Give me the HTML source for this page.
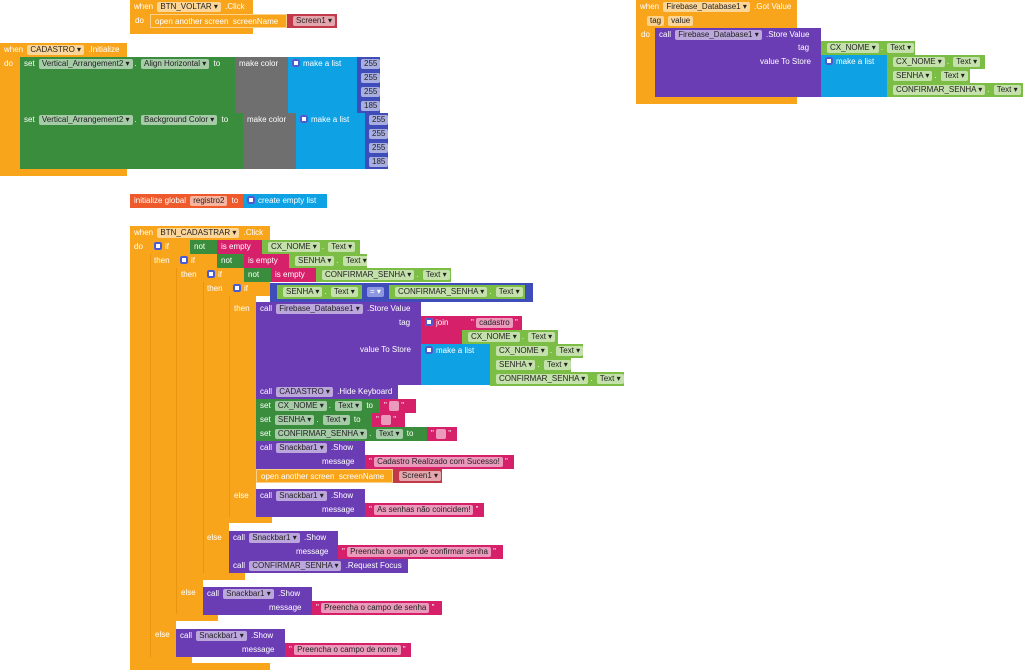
<!DOCTYPE html>
<html><head><meta charset="utf-8"><style>
body{margin:0;width:1024px;height:670px;background:#fff;position:relative;overflow:hidden;font-family:"Liberation Sans",sans-serif;font-size:8px;color:#fff}
.b{position:absolute;box-sizing:border-box;white-space:nowrap;line-height:14px;padding-left:4px}
.c{display:inline-block;background:rgba(255,255,255,.55);color:#222;border-radius:2px;padding:0 3px;line-height:10px;height:10px;margin:0 2px}
.t{position:absolute;white-space:nowrap;line-height:14px}
.g{display:inline-block;width:8px;height:8px;border-radius:2px;background:#fff;vertical-align:-1px;box-shadow:inset 0 0 0 2px #4a5ad0;margin-right:3px}
.o{background:#f9a51b}.gr{background:#3a8d3c}.lg{background:#7cbd45}.pk{background:#d6216a}.pu{background:#6a3db4}.bl{background:#0ea2e4}.gy{background:#6f6f6f}.db{background:#3f4dbb}.rd{background:#c23a49}
.ib{border-left:1px solid #e8950f}
</style></head><body>
<!-- BTN_VOLTAR -->
<div class="b o" style="left:130px;top:0;width:123px;height:34px">when <span class="c">BTN_VOLTAR ▾</span> .Click</div>
<div class="t" style="left:135px;top:14px">do</div>
<div class="b o" style="left:150px;top:14px;width:137px;height:14px;border:1px solid #fdd08a">open another screen &nbsp;screenName</div>
<div class="b rd" style="left:287px;top:14px;width:50px;height:14px"><span class="c">Screen1 ▾</span></div>

<!-- CADASTRO -->
<div class="b o" style="left:0;top:43px;width:127px;height:14px">when <span class="c">CADASTRO ▾</span> .Initialize</div>
<div class="b o" style="left:0;top:57px;width:20px;height:119px">do</div>
<div class="b o" style="left:0;top:169px;width:127px;height:7px"></div>
<div class="b gr" style="left:20px;top:57px;width:215px;height:56px">set <span class="c">Vertical_Arrangement2 ▾</span>. <span class="c">Align Horizontal ▾</span> to</div>
<div class="b gy" style="left:235px;top:57px;width:53px;height:56px">make color</div>
<div class="b bl" style="left:288px;top:57px;width:69px;height:56px"><span class="g"></span>make a list</div>
<div class="b db" style="left:357px;top:57px;width:23px;height:56px"></div>
<div class="t" style="left:361px;top:57px;color:#222;line-height:14px"><span class="c" style="margin:0">255</span><br><span class="c" style="margin:0">255</span><br><span class="c" style="margin:0">255</span><br><span class="c" style="margin:0">185</span></div>
<div class="b gr" style="left:20px;top:113px;width:223px;height:56px">set <span class="c">Vertical_Arrangement2 ▾</span>. <span class="c">Background Color ▾</span> to</div>
<div class="b gy" style="left:243px;top:113px;width:53px;height:56px">make color</div>
<div class="b bl" style="left:296px;top:113px;width:69px;height:56px"><span class="g"></span>make a list</div>
<div class="b db" style="left:365px;top:113px;width:23px;height:56px"></div>
<div class="t" style="left:369px;top:113px"><span class="c" style="margin:0">255</span><br><span class="c" style="margin:0">255</span><br><span class="c" style="margin:0">255</span><br><span class="c" style="margin:0">185</span></div>

<!-- global -->
<div class="b" style="left:130px;top:194px;width:113px;height:14px;background:#ee5a2b">initialize global <span class="c">registro2</span> to</div>
<div class="b bl" style="left:243px;top:194px;width:84px;height:14px"><span class="g"></span>create empty list</div>

<!-- Firebase GotValue -->
<div class="b o" style="left:636px;top:0;width:161px;height:104px">when <span class="c">Firebase_Database1 ▾</span> .Got Value</div>
<div class="t" style="left:645px;top:14px"><span class="c" style="background:rgba(255,255,255,.5)">tag</span><span class="c">value</span></div>
<div class="t" style="left:641px;top:28px">do</div>
<div class="b pu" style="left:655px;top:28px;width:166px;height:69px">call <span class="c">Firebase_Database1 ▾</span> .Store Value</div>
<div class="t" style="left:798px;top:41px">tag</div>
<div class="t" style="left:760px;top:55px">value To Store</div>
<div class="b lg" style="left:821px;top:41px;width:94px;height:14px"><span class="c">CX_NOME ▾</span>. <span class="c">Text ▾</span></div>
<div class="b bl" style="left:821px;top:55px;width:66px;height:42px"><span class="g"></span>make a list</div>
<div class="b lg" style="left:887px;top:55px;width:98px;height:14px"><span class="c">CX_NOME ▾</span>. <span class="c">Text ▾</span></div>
<div class="b lg" style="left:887px;top:69px;width:83px;height:14px"><span class="c">SENHA ▾</span>. <span class="c">Text ▾</span></div>
<div class="b lg" style="left:887px;top:83px;width:136px;height:14px"><span class="c">CONFIRMAR_SENHA ▾</span>. <span class="c">Text ▾</span></div>

<!-- BTN_CADASTRAR -->
<div class="b o" style="left:130px;top:226px;width:140px;height:14px">when <span class="c">BTN_CADASTRAR ▾</span> .Click</div>
<div class="b o" style="left:130px;top:240px;width:20px;height:430px">do</div>
<div class="b o" style="left:130px;top:663px;width:140px;height:7px"></div>
<!-- if1 -->
<div class="b o ib" style="left:150px;top:240px;width:26px;height:424px"></div>
<div class="b o" style="left:150px;top:240px;width:40px;height:14px"><span class="g"></span>if</div>
<div class="t" style="left:154px;top:254px">then</div>
<div class="t" style="left:155px;top:628px">else</div>
<div class="b o" style="left:150px;top:657px;width:42px;height:7px"></div>
<div class="b gr" style="left:190px;top:240px;width:27px;height:14px">not</div>
<div class="b pk" style="left:217px;top:240px;width:45px;height:14px">is empty</div>
<div class="b lg" style="left:262px;top:240px;width:98px;height:14px"><span class="c">CX_NOME ▾</span>. <span class="c">Text ▾</span></div>
<!-- if2 -->
<div class="b o ib" style="left:176px;top:254px;width:27px;height:366px"></div>
<div class="b o" style="left:176px;top:254px;width:41px;height:14px"><span class="g"></span>if</div>
<div class="t" style="left:181px;top:268px">then</div>
<div class="t" style="left:181px;top:586px">else</div>
<div class="b o" style="left:176px;top:614px;width:42px;height:7px"></div>
<div class="b gr" style="left:217px;top:254px;width:27px;height:14px">not</div>
<div class="b pk" style="left:244px;top:254px;width:45px;height:14px">is empty</div>
<div class="b lg" style="left:289px;top:254px;width:78px;height:14px"><span class="c">SENHA ▾</span>. <span class="c">Text ▾</span></div>
<!-- if3 -->
<div class="b o ib" style="left:203px;top:268px;width:26px;height:312px"></div>
<div class="b o" style="left:203px;top:268px;width:41px;height:14px"><span class="g"></span>if</div>
<div class="t" style="left:207px;top:282px">then</div>
<div class="t" style="left:207px;top:531px">else</div>
<div class="b o" style="left:203px;top:573px;width:42px;height:7px"></div>
<div class="b gr" style="left:244px;top:268px;width:27px;height:14px">not</div>
<div class="b pk" style="left:271px;top:268px;width:45px;height:14px">is empty</div>
<div class="b lg" style="left:316px;top:268px;width:135px;height:14px"><span class="c">CONFIRMAR_SENHA ▾</span>. <span class="c">Text ▾</span></div>
<!-- if4 -->
<div class="b o ib" style="left:229px;top:282px;width:27px;height:240px"></div>
<div class="b o" style="left:229px;top:282px;width:41px;height:14px"><span class="g"></span>if</div>
<div class="t" style="left:234px;top:302px">then</div>
<div class="t" style="left:234px;top:489px">else</div>
<div class="b o" style="left:229px;top:517px;width:43px;height:6px"></div>
<div class="b db" style="left:270px;top:283px;width:263px;height:19px"></div>
<div class="b lg" style="left:277px;top:285px;width:85px;height:14px"><span class="c">SENHA ▾</span>. <span class="c">Text ▾</span></div>
<div class="t" style="left:365px;top:285px"><span class="c" style="background:#8e98e0;color:#fff">= ▾</span></div>
<div class="b lg" style="left:389px;top:285px;width:136px;height:14px"><span class="c">CONFIRMAR_SENHA ▾</span>. <span class="c">Text ▾</span></div>
<!-- then content -->
<div class="b pu" style="left:256px;top:302px;width:165px;height:83px">call <span class="c">Firebase_Database1 ▾</span> .Store Value</div>
<div class="t" style="left:399px;top:316px">tag</div>
<div class="t" style="left:360px;top:343px">value To Store</div>
<div class="b pk" style="left:421px;top:316px;width:101px;height:28px"><span class="g"></span>join</div>
<div class="b pk" style="left:467px;top:316px;width:55px;height:14px">" <span class="c" style="margin:0">cadastro</span> "</div>
<div class="b lg" style="left:462px;top:330px;width:96px;height:14px"><span class="c">CX_NOME ▾</span>. <span class="c">Text ▾</span></div>
<div class="b bl" style="left:421px;top:344px;width:69px;height:41px"><span class="g"></span>make a list</div>
<div class="b lg" style="left:490px;top:344px;width:93px;height:14px"><span class="c">CX_NOME ▾</span>. <span class="c">Text ▾</span></div>
<div class="b lg" style="left:490px;top:358px;width:81px;height:14px"><span class="c">SENHA ▾</span>. <span class="c">Text ▾</span></div>
<div class="b lg" style="left:490px;top:372px;width:134px;height:14px"><span class="c">CONFIRMAR_SENHA ▾</span>. <span class="c">Text ▾</span></div>
<div class="b pu" style="left:256px;top:385px;width:142px;height:14px">call <span class="c">CADASTRO ▾</span> .Hide Keyboard</div>
<div class="b gr" style="left:256px;top:399px;width:124px;height:14px">set <span class="c">CX_NOME ▾</span>. <span class="c">Text ▾</span> to</div>
<div class="b pk" style="left:380px;top:399px;width:36px;height:14px">" <span class="c" style="margin:0;width:4px">&nbsp;</span> "</div>
<div class="b gr" style="left:256px;top:413px;width:116px;height:14px">set <span class="c">SENHA ▾</span>. <span class="c">Text ▾</span> to</div>
<div class="b pk" style="left:372px;top:413px;width:33px;height:14px">" <span class="c" style="margin:0;width:4px">&nbsp;</span> "</div>
<div class="b gr" style="left:256px;top:427px;width:171px;height:14px">set <span class="c">CONFIRMAR_SENHA ▾</span>. <span class="c">Text ▾</span> to</div>
<div class="b pk" style="left:427px;top:427px;width:30px;height:14px">" <span class="c" style="margin:0;width:4px">&nbsp;</span> "</div>
<div class="b pu" style="left:256px;top:441px;width:109px;height:28px">call <span class="c">Snackbar1 ▾</span> .Show</div>
<div class="t" style="left:322px;top:455px">message</div>
<div class="b pk" style="left:365px;top:455px;width:149px;height:14px">" <span class="c" style="margin:0">Cadastro Realizado com Sucesso!</span> "</div>
<div class="b o" style="left:256px;top:469px;width:137px;height:14px;border:1px solid #fdd08a">open another screen &nbsp;screenName</div>
<div class="b rd" style="left:393px;top:469px;width:49px;height:14px"><span class="c">Screen1 ▾</span></div>
<!-- else4 -->
<div class="b pu" style="left:256px;top:489px;width:109px;height:28px">call <span class="c">Snackbar1 ▾</span> .Show</div>
<div class="t" style="left:322px;top:503px">message</div>
<div class="b pk" style="left:365px;top:503px;width:119px;height:14px">" <span class="c" style="margin:0">As senhas não coincidem!</span> "</div>
<!-- else3 -->
<div class="b pu" style="left:229px;top:531px;width:109px;height:28px">call <span class="c">Snackbar1 ▾</span> .Show</div>
<div class="t" style="left:296px;top:545px">message</div>
<div class="b pk" style="left:338px;top:545px;width:165px;height:14px">" <span class="c" style="margin:0">Preencha o campo de  confirmar senha</span> "</div>
<div class="b pu" style="left:229px;top:559px;width:179px;height:14px">call <span class="c">CONFIRMAR_SENHA ▾</span> .Request Focus</div>
<!-- else2 -->
<div class="b pu" style="left:203px;top:587px;width:109px;height:28px">call <span class="c">Snackbar1 ▾</span> .Show</div>
<div class="t" style="left:269px;top:601px">message</div>
<div class="b pk" style="left:312px;top:601px;width:130px;height:14px">" <span class="c" style="margin:0">Preencha o campo de senha</span> "</div>
<!-- else1 -->
<div class="b pu" style="left:176px;top:629px;width:109px;height:28px">call <span class="c">Snackbar1 ▾</span> .Show</div>
<div class="t" style="left:242px;top:643px">message</div>
<div class="b pk" style="left:285px;top:643px;width:126px;height:14px">" <span class="c" style="margin:0">Preencha o campo de nome</span> "</div>
</body></html>
